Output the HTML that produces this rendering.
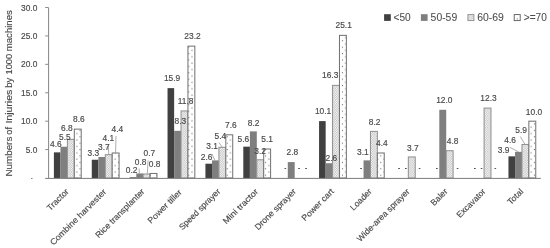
<!DOCTYPE html>
<html lang="en"><head><meta charset="utf-8"><title>Numbers of injuries by 1000 machines</title>
<style>html,body{margin:0;padding:0;background:#fff}svg{display:block}text{stroke:#484848;stroke-width:0.15px}</style></head>
<body>
<svg width="550" height="248" viewBox="0 0 550 248" font-family="'Liberation Sans', sans-serif" fill="#484848">
<defs>
<pattern id="p3" patternUnits="userSpaceOnUse" width="2.4" height="2.4">
<rect width="2.4" height="2.4" fill="#ffffff"/>
<rect width="1.2" height="1.2" fill="#bcbcbc"/>
<rect x="1.2" y="1.2" width="1.2" height="1.2" fill="#bcbcbc"/>
</pattern>
<pattern id="p4" patternUnits="userSpaceOnUse" width="6.4" height="6.4">
<rect width="6.4" height="6.4" fill="#ffffff"/>
<rect x="-0.5" y="5.1" width="1" height="1" fill="#5c5c5c"/>
<rect x="5.9" y="5.1" width="1" height="1" fill="#5c5c5c"/>
<rect x="2.7" y="1.9" width="1" height="1" fill="#5c5c5c"/>
</pattern>
</defs>
<rect width="550" height="248" fill="#ffffff"/>
<rect x="53.90" y="152.36" width="6.60" height="25.64" fill="#404040"/>
<rect x="60.50" y="146.74" width="6.90" height="31.26" fill="#7f7f7f"/>
<rect x="67.40" y="139.35" width="6.90" height="38.65" fill="url(#p3)" stroke="#8e8e8e" stroke-width="1"/>
<rect x="74.30" y="129.12" width="6.90" height="48.88" fill="url(#p4)" stroke="#707070" stroke-width="1"/>
<rect x="91.78" y="159.75" width="6.60" height="18.25" fill="#404040"/>
<rect x="98.38" y="156.97" width="6.90" height="21.03" fill="#7f7f7f"/>
<rect x="105.28" y="154.70" width="6.90" height="23.30" fill="url(#p3)" stroke="#8e8e8e" stroke-width="1"/>
<rect x="112.18" y="152.99" width="6.90" height="25.01" fill="url(#p4)" stroke="#707070" stroke-width="1"/>
<rect x="129.66" y="177.36" width="6.60" height="0.64" fill="#404040"/>
<rect x="136.26" y="173.45" width="6.90" height="4.55" fill="#7f7f7f"/>
<rect x="143.16" y="174.02" width="6.90" height="3.98" fill="url(#p3)" stroke="#8e8e8e" stroke-width="1"/>
<rect x="150.06" y="173.45" width="6.90" height="4.55" fill="url(#p4)" stroke="#707070" stroke-width="1"/>
<rect x="167.54" y="88.13" width="6.60" height="89.87" fill="#404040"/>
<rect x="174.14" y="130.83" width="6.90" height="47.17" fill="#7f7f7f"/>
<rect x="181.04" y="110.94" width="6.90" height="67.06" fill="url(#p3)" stroke="#8e8e8e" stroke-width="1"/>
<rect x="187.94" y="46.15" width="6.90" height="131.85" fill="url(#p4)" stroke="#707070" stroke-width="1"/>
<rect x="205.42" y="163.72" width="6.60" height="14.28" fill="#404040"/>
<rect x="212.02" y="160.38" width="6.90" height="17.62" fill="#7f7f7f"/>
<rect x="218.92" y="147.31" width="6.90" height="30.69" fill="url(#p3)" stroke="#8e8e8e" stroke-width="1"/>
<rect x="225.82" y="134.81" width="6.90" height="43.19" fill="url(#p4)" stroke="#707070" stroke-width="1"/>
<rect x="243.30" y="146.67" width="6.60" height="31.33" fill="#404040"/>
<rect x="249.90" y="131.40" width="6.90" height="46.60" fill="#7f7f7f"/>
<rect x="256.80" y="159.81" width="6.90" height="18.19" fill="url(#p3)" stroke="#8e8e8e" stroke-width="1"/>
<rect x="263.70" y="149.01" width="6.90" height="28.98" fill="url(#p4)" stroke="#707070" stroke-width="1"/>
<rect x="287.78" y="162.09" width="6.90" height="15.91" fill="#7f7f7f"/>
<rect x="319.06" y="121.10" width="6.60" height="56.90" fill="#404040"/>
<rect x="325.66" y="163.22" width="6.90" height="14.78" fill="#7f7f7f"/>
<rect x="332.56" y="85.36" width="6.90" height="92.64" fill="url(#p3)" stroke="#8e8e8e" stroke-width="1"/>
<rect x="339.46" y="35.35" width="6.90" height="142.65" fill="url(#p4)" stroke="#707070" stroke-width="1"/>
<rect x="363.54" y="160.38" width="6.90" height="17.62" fill="#7f7f7f"/>
<rect x="370.44" y="131.40" width="6.90" height="46.60" fill="url(#p3)" stroke="#8e8e8e" stroke-width="1"/>
<rect x="377.34" y="152.99" width="6.90" height="25.01" fill="url(#p4)" stroke="#707070" stroke-width="1"/>
<rect x="408.32" y="156.97" width="6.90" height="21.03" fill="url(#p3)" stroke="#8e8e8e" stroke-width="1"/>
<rect x="439.30" y="109.80" width="6.90" height="68.20" fill="#7f7f7f"/>
<rect x="446.20" y="150.72" width="6.90" height="27.28" fill="url(#p3)" stroke="#8e8e8e" stroke-width="1"/>
<rect x="484.08" y="108.09" width="6.90" height="69.91" fill="url(#p3)" stroke="#8e8e8e" stroke-width="1"/>
<rect x="508.46" y="156.34" width="6.60" height="21.66" fill="#404040"/>
<rect x="515.06" y="151.86" width="6.90" height="26.14" fill="#7f7f7f"/>
<rect x="521.96" y="144.47" width="6.90" height="33.53" fill="url(#p3)" stroke="#8e8e8e" stroke-width="1"/>
<rect x="528.86" y="121.17" width="6.90" height="56.83" fill="url(#p4)" stroke="#707070" stroke-width="1"/>
<path d="M48.60 7.5V178.40" stroke="#858585" stroke-width="1" fill="none"/>
<path d="M45.20 178.40H540.8" stroke="#7a7a7a" stroke-width="1" fill="none"/>
<path d="M45.20 149.58H48.40" stroke="#8c8c8c" stroke-width="1" fill="none"/>
<path d="M45.20 121.17H48.40" stroke="#8c8c8c" stroke-width="1" fill="none"/>
<path d="M45.20 92.75H48.40" stroke="#8c8c8c" stroke-width="1" fill="none"/>
<path d="M45.20 64.33H48.40" stroke="#8c8c8c" stroke-width="1" fill="none"/>
<path d="M45.20 35.92H48.40" stroke="#8c8c8c" stroke-width="1" fill="none"/>
<path d="M45.20 7.50H48.40" stroke="#8c8c8c" stroke-width="1" fill="none"/>
<text x="37.3" y="152.58" font-size="8.40" text-anchor="end">5.0</text>
<text x="37.3" y="124.17" font-size="8.40" text-anchor="end">10.0</text>
<text x="37.3" y="95.75" font-size="8.40" text-anchor="end">15.0</text>
<text x="37.3" y="67.33" font-size="8.40" text-anchor="end">20.0</text>
<text x="37.3" y="38.92" font-size="8.40" text-anchor="end">25.0</text>
<text x="37.3" y="10.50" font-size="8.40" text-anchor="end">30.0</text>
<text x="31.8" y="180.3" font-size="6" font-weight="bold" text-anchor="middle" fill="#4a4a4a" style="stroke:none">-</text>
<text transform="translate(11.8 176) rotate(-90)" font-size="9.60"><tspan x="-0.6" textLength="39.9" lengthAdjust="spacingAndGlyphs">Numbers</tspan> <tspan x="41.3" textLength="7.7" lengthAdjust="spacingAndGlyphs">of</tspan> <tspan x="52.4" textLength="33.9" lengthAdjust="spacingAndGlyphs">Injuries</tspan> <tspan x="88.3" textLength="10.1" lengthAdjust="spacingAndGlyphs">by</tspan> <tspan x="101.5" textLength="20.7" lengthAdjust="spacingAndGlyphs">1000</tspan> <tspan x="124.8" textLength="41.0" lengthAdjust="spacingAndGlyphs">machines</tspan></text>
<path d="M108.2 145.2L108.8 154.5" stroke="#999999" stroke-width="0.8" fill="none"/>
<path d="M116.0 136.0L115.6 153.0" stroke="#999999" stroke-width="0.8" fill="none"/>
<path d="M139.2 168.6L139.3 173.5" stroke="#999999" stroke-width="0.8" fill="none"/>
<path d="M148.1 160.3L147.3 173.8" stroke="#999999" stroke-width="0.8" fill="none"/>
<path d="M212.1 154.1L214.8 160.3" stroke="#999999" stroke-width="0.8" fill="none"/>
<path d="M218.8 142.5L222.5 147.4" stroke="#999999" stroke-width="0.8" fill="none"/>
<path d="M509.6 147.2L518.6 151.9" stroke="#999999" stroke-width="0.8" fill="none"/>
<path d="M520.3 136.5L525.0 144.4" stroke="#999999" stroke-width="0.8" fill="none"/>
<text x="55.90" y="147.00" font-size="8.40" text-anchor="middle">4.6</text>
<text x="64.80" y="139.90" font-size="8.40" text-anchor="middle">5.5</text>
<text x="66.80" y="131.00" font-size="8.40" text-anchor="middle">6.8</text>
<text x="78.90" y="122.30" font-size="8.40" text-anchor="middle">8.6</text>
<text x="93.30" y="155.80" font-size="8.40" text-anchor="middle">3.3</text>
<text x="103.80" y="150.00" font-size="8.40" text-anchor="middle">3.7</text>
<text x="108.30" y="140.75" font-size="8.40" text-anchor="middle">4.1</text>
<text x="117.40" y="132.00" font-size="8.40" text-anchor="middle">4.4</text>
<text x="131.70" y="173.20" font-size="8.40" text-anchor="middle">0.2</text>
<text x="140.60" y="165.20" font-size="8.40" text-anchor="middle">0.8</text>
<text x="149.30" y="156.20" font-size="8.40" text-anchor="middle">0.7</text>
<text x="154.70" y="167.00" font-size="8.40" text-anchor="middle">0.8</text>
<text x="172.10" y="80.90" font-size="8.40" text-anchor="middle">15.9</text>
<text x="180.40" y="123.90" font-size="8.40" text-anchor="middle">8.3</text>
<text x="185.60" y="103.80" font-size="8.40" text-anchor="middle">11.8</text>
<text x="192.50" y="39.10" font-size="8.40" text-anchor="middle">23.2</text>
<text x="206.70" y="160.45" font-size="8.40" text-anchor="middle">2.6</text>
<text x="212.20" y="148.75" font-size="8.40" text-anchor="middle">3.1</text>
<text x="220.40" y="139.05" font-size="8.40" text-anchor="middle">5.4</text>
<text x="230.80" y="128.25" font-size="8.40" text-anchor="middle">7.6</text>
<text x="243.30" y="142.35" font-size="8.40" text-anchor="middle">5.6</text>
<text x="253.70" y="126.05" font-size="8.40" text-anchor="middle">8.2</text>
<text x="260.10" y="153.75" font-size="8.40" text-anchor="middle">3.2</text>
<text x="267.20" y="142.35" font-size="8.40" text-anchor="middle">5.1</text>
<text x="285.33" y="170.30" font-size="6.4" font-weight="bold" text-anchor="middle" fill="#454545" style="stroke:none">-</text>
<text x="292.40" y="155.40" font-size="8.40" text-anchor="middle">2.8</text>
<text x="299.13" y="170.30" font-size="6.4" font-weight="bold" text-anchor="middle" fill="#454545" style="stroke:none">-</text>
<text x="306.03" y="170.30" font-size="6.4" font-weight="bold" text-anchor="middle" fill="#454545" style="stroke:none">-</text>
<text x="323.10" y="113.80" font-size="8.40" text-anchor="middle">10.1</text>
<text x="331.40" y="161.25" font-size="8.40" text-anchor="middle">2.6</text>
<text x="330.20" y="78.40" font-size="8.40" text-anchor="middle">16.3</text>
<text x="343.70" y="28.20" font-size="8.40" text-anchor="middle">25.1</text>
<text x="361.09" y="170.30" font-size="6.4" font-weight="bold" text-anchor="middle" fill="#454545" style="stroke:none">-</text>
<text x="362.90" y="155.40" font-size="8.40" text-anchor="middle">3.1</text>
<text x="374.70" y="125.20" font-size="8.40" text-anchor="middle">8.2</text>
<text x="381.90" y="146.40" font-size="8.40" text-anchor="middle">4.4</text>
<text x="398.97" y="170.30" font-size="6.4" font-weight="bold" text-anchor="middle" fill="#454545" style="stroke:none">-</text>
<text x="405.87" y="170.30" font-size="6.4" font-weight="bold" text-anchor="middle" fill="#454545" style="stroke:none">-</text>
<text x="412.80" y="150.65" font-size="8.40" text-anchor="middle">3.7</text>
<text x="419.67" y="170.30" font-size="6.4" font-weight="bold" text-anchor="middle" fill="#454545" style="stroke:none">-</text>
<text x="436.85" y="170.30" font-size="6.4" font-weight="bold" text-anchor="middle" fill="#454545" style="stroke:none">-</text>
<text x="444.30" y="103.00" font-size="8.40" text-anchor="middle">12.0</text>
<text x="452.60" y="143.80" font-size="8.40" text-anchor="middle">4.8</text>
<text x="457.55" y="170.30" font-size="6.4" font-weight="bold" text-anchor="middle" fill="#454545" style="stroke:none">-</text>
<text x="474.73" y="170.30" font-size="6.4" font-weight="bold" text-anchor="middle" fill="#454545" style="stroke:none">-</text>
<text x="481.63" y="170.30" font-size="6.4" font-weight="bold" text-anchor="middle" fill="#454545" style="stroke:none">-</text>
<text x="488.50" y="101.20" font-size="8.40" text-anchor="middle">12.3</text>
<text x="495.43" y="170.30" font-size="6.4" font-weight="bold" text-anchor="middle" fill="#454545" style="stroke:none">-</text>
<text x="503.70" y="152.90" font-size="8.40" text-anchor="middle">3.9</text>
<text x="510.20" y="143.40" font-size="8.40" text-anchor="middle">4.6</text>
<text x="521.10" y="133.00" font-size="8.40" text-anchor="middle">5.9</text>
<text x="534.00" y="114.80" font-size="8.40" text-anchor="middle">10.0</text>
<text transform="translate(69.34 192.10) rotate(-45)" font-size="8.50" text-anchor="end" textLength="27.13" lengthAdjust="spacingAndGlyphs">Tractor</text>
<text transform="translate(106.82 192.50) rotate(-45)" font-size="8.50" text-anchor="end" textLength="75.33" lengthAdjust="spacingAndGlyphs">Combine harvester</text>
<text transform="translate(145.10 192.10) rotate(-45)" font-size="8.50" text-anchor="end" textLength="65.53" lengthAdjust="spacingAndGlyphs">Rice transplanter</text>
<text transform="translate(182.28 192.80) rotate(-45)" font-size="8.50" text-anchor="end" textLength="44.28" lengthAdjust="spacingAndGlyphs">Power tiller</text>
<text transform="translate(220.86 192.10) rotate(-45)" font-size="8.50" text-anchor="end" textLength="54.37" lengthAdjust="spacingAndGlyphs">Speed sprayer</text>
<text transform="translate(258.74 192.10) rotate(-45)" font-size="8.50" text-anchor="end" textLength="45.90" lengthAdjust="spacingAndGlyphs">Mini tractor</text>
<text transform="translate(296.62 192.10) rotate(-45)" font-size="8.50" text-anchor="end" textLength="54.30" lengthAdjust="spacingAndGlyphs">Drone sprayer</text>
<text transform="translate(334.50 192.10) rotate(-45)" font-size="8.50" text-anchor="end" textLength="41.57" lengthAdjust="spacingAndGlyphs">Power cart</text>
<text transform="translate(372.38 192.10) rotate(-45)" font-size="8.50" text-anchor="end" textLength="26.58" lengthAdjust="spacingAndGlyphs">Loader</text>
<text transform="translate(410.26 192.10) rotate(-45)" font-size="8.50" text-anchor="end" textLength="70.84" lengthAdjust="spacingAndGlyphs">Wide-area sprayer</text>
<text transform="translate(448.14 192.10) rotate(-45)" font-size="8.50" text-anchor="end" textLength="19.94" lengthAdjust="spacingAndGlyphs">Baler</text>
<text transform="translate(486.02 192.10) rotate(-45)" font-size="8.50" text-anchor="end" textLength="36.90" lengthAdjust="spacingAndGlyphs">Excavator</text>
<text transform="translate(523.90 192.10) rotate(-45)" font-size="8.50" text-anchor="end" textLength="18.59" lengthAdjust="spacingAndGlyphs">Total</text>
<rect x="384.10" y="14.2" width="6.7" height="6.7" fill="#404040"/>
<text x="393.50" y="20.9" font-size="10.10" fill="#505050" style="stroke-width:0.08px">&lt;50</text>
<rect x="420.90" y="14.2" width="6.7" height="6.7" fill="#7f7f7f"/>
<text x="430.60" y="20.9" font-size="10.10" fill="#505050" style="stroke-width:0.08px" textLength="26.6" lengthAdjust="spacingAndGlyphs">50-59</text>
<rect x="467.90" y="14.6" width="6" height="6" fill="url(#p3)" stroke="#8c8c8c" stroke-width="0.9"/>
<text x="477.20" y="20.9" font-size="10.10" fill="#505050" style="stroke-width:0.08px" textLength="26.6" lengthAdjust="spacingAndGlyphs">60-69</text>
<rect x="514.20" y="14.6" width="6" height="6" fill="#ffffff" stroke="#595959" stroke-width="0.9"/>
<text x="523.80" y="20.9" font-size="10.10" fill="#505050" style="stroke-width:0.08px">&gt;=70</text>
<rect x="516.8" y="18.4" width="1" height="1" fill="#666"/>
</svg>
</body></html>
